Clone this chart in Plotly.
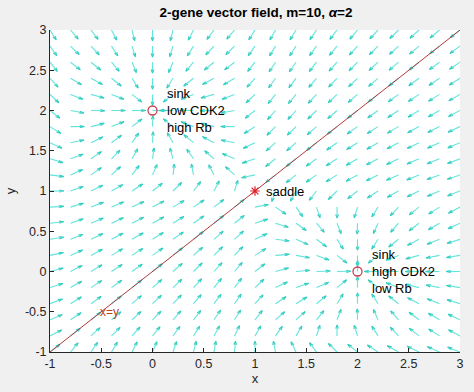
import numpy as np
import plotly.graph_objects as go

# Model parameters (from title)
m_hill = 10
alpha_p = 2.0

# Grid of arrow origins
grid_x = [-1.0, -0.8, -0.6, -0.4, -0.2, 0.0, 0.2, 0.4, 0.6, 0.8, 1.0,
          1.2, 1.4, 1.6, 1.8, 2.0, 2.2, 2.4, 2.6, 2.8, 3.0]
grid_y = list(grid_x)

# Fixed points and labels
sink_x = [0, 2]
sink_y = [2, 0]
saddle_x = [1]
saddle_y = [1]
diag_x = [-1, 3]
diag_y = [-1, 3]
tick_vals = [-1, -0.5, 0, 0.5, 1, 1.5, 2, 2.5, 3]
tick_text = ["-1", "-0.5", "0", "0.5", "1", "1.5", "2", "2.5", "3"]

X, Y = np.meshgrid(np.array(grid_x), np.array(grid_y))
U = alpha_p / (1 + Y ** m_hill) - X
V = alpha_p / (1 + X ** m_hill) - Y
N = np.sqrt(U ** 2 + V ** 2)
N[N == 0] = 1
U = U / N
V = V / N

L = 0.135
ha, hb = 0.33, 0.3
sx, sy, hx, hy = [], [], [], []
for x0, y0, u, v in zip(X.ravel(), Y.ravel(), U.ravel(), V.ravel()):
    u *= L
    v *= L
    tx, ty = x0 + u, y0 + v
    sx += [x0, tx, None]
    sy += [y0, ty, None]
    hx += [tx - ha * (u + hb * v), tx, tx - ha * (u - hb * v), None]
    hy += [ty - ha * (v - hb * u), ty, ty - ha * (v + hb * u), None]

fig = go.Figure()
fig.add_trace(go.Scatter(x=sx, y=sy, mode="lines",
                         line=dict(color="#62e4dc", width=1.1),
                         hoverinfo="skip", showlegend=False))
fig.add_trace(go.Scatter(x=hx, y=hy, mode="lines",
                         line=dict(color="#36cdc2", width=1.1),
                         hoverinfo="skip", showlegend=False))
fig.add_trace(go.Scatter(x=diag_x, y=diag_y, mode="lines",
                         line=dict(color="#b03a3a", width=1),
                         showlegend=False))
fig.add_trace(go.Scatter(x=sink_x, y=sink_y, mode="markers",
                         marker=dict(symbol="circle-open", size=9,
                                     color="#c8404f", line=dict(width=1.3)),
                         showlegend=False))
fig.add_trace(go.Scatter(x=saddle_x, y=saddle_y, mode="markers",
                         marker=dict(symbol="asterisk-open", size=8,
                                     color="#e0202a", line=dict(width=1.2, color="#e0202a")),
                         showlegend=False))

font_txt = dict(family="Liberation Sans, Arial", size=13, color="black")
fig.add_annotation(x=0.12, y=2, text="sink<br>low CDK2<br>high Rb", showarrow=False,
                   xanchor="left", yanchor="middle", align="left", font=font_txt)
fig.add_annotation(x=2.12, y=0, text="sink<br>high CDK2<br>low Rb", showarrow=False,
                   xanchor="left", yanchor="middle", align="left", font=font_txt)
fig.add_annotation(x=1.09, y=1, text="saddle", showarrow=False,
                   xanchor="left", yanchor="middle", font=font_txt)
fig.add_annotation(x=-0.53, y=-0.5, text="x=y", showarrow=False,
                   xanchor="left", yanchor="middle",
                   font=dict(family="Liberation Sans, Arial", size=12, color="#b8431c"))

axis_common = dict(tickmode="array", tickvals=tick_vals, ticktext=tick_text,
                   ticks="inside", ticklen=4, tickcolor="#262626",
                   showline=True, linecolor="#262626", linewidth=1,
                   showgrid=False, zeroline=False, mirror=False, automargin=False,
                   tickfont=dict(family="Liberation Sans, Arial", size=12.5, color="#262626"))
fig.update_xaxes(range=[-1, 3], title=dict(text="x", standoff=2,
                 font=dict(family="Liberation Sans, Arial", size=13, color="#262626")),
                 **axis_common)
fig.update_yaxes(range=[-1, 3], title=dict(text="y", standoff=6,
                 font=dict(family="Liberation Sans, Arial", size=13, color="#262626")),
                 **axis_common)

fig.update_layout(
    width=474, height=392,
    margin=dict(l=50, r=14, t=30, b=40, autoexpand=False),
    paper_bgcolor="#f0f0f0", plot_bgcolor="white",
    title=dict(text="<b>2-gene vector field, m=10, <i>α</i>=2</b>", x=0.54, xanchor="center",
               y=0.968, yanchor="middle",
               font=dict(family="Liberation Sans, Arial", size=13.5, color="black")),
)
fig.write_html("out.html", config={"displayModeBar": False},
               post_script="document.body.style.margin='0';document.body.style.background='#f0f0f0';")
